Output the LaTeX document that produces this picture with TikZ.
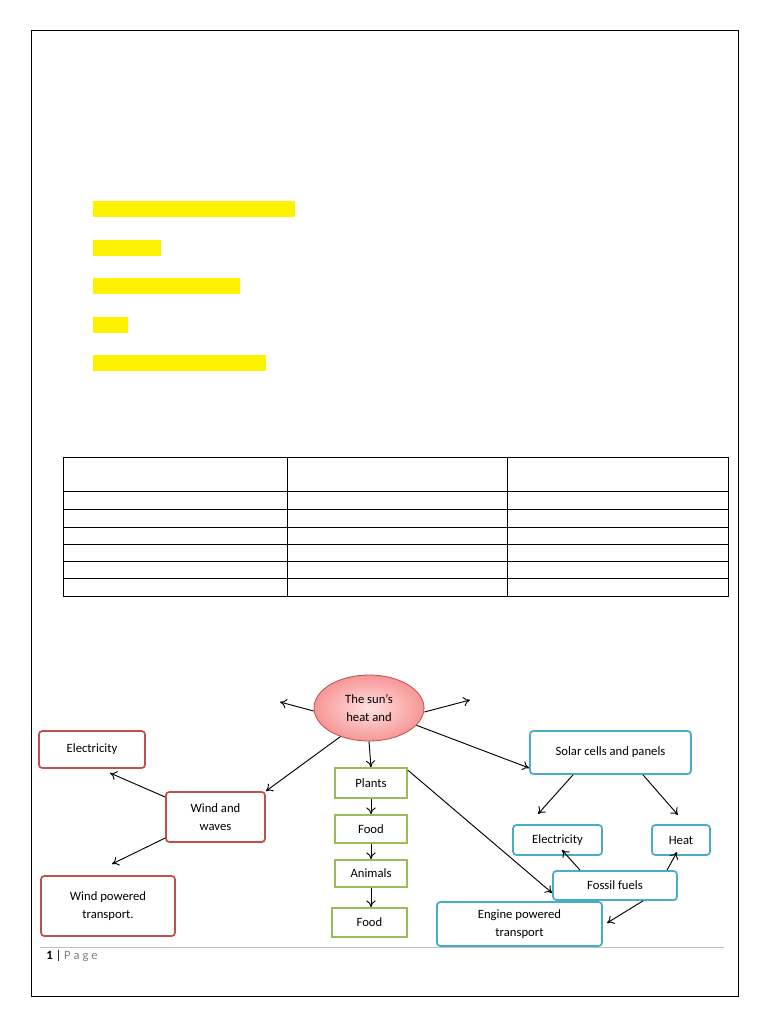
\documentclass[tikz,border=0pt]{standalone}
\usepackage{fontspec}
\setmainfont{Carlito}
\usetikzlibrary{shapes.geometric,shadings,arrows.meta}
\definecolor{cred}{RGB}{192,80,77}
\definecolor{cgrn}{RGB}{155,187,89}
\definecolor{cblu}{RGB}{75,172,198}
\definecolor{pin}{RGB}{255,225,225}
\definecolor{pout}{RGB}{247,150,150}
\begin{document}
\begin{tikzpicture}[x=0.75pt,y=-0.75pt,
 wd/.style={minimum width=#1*0.75pt},
 ht/.style={minimum height=#1*0.75pt},
 box/.style={draw,line width=1.3pt,rounded corners=2.5pt,fill=white,align=center,inner sep=1pt,font=\fontsize{9.5}{14}\selectfont},
 redb/.style={box,draw=cred},
 grnb/.style={box,draw=cgrn,rounded corners=0pt},
 blub/.style={box,draw=cblu},
 arr/.style={-{To[length=5pt,width=7pt]},line width=0.7pt}]
\useasboundingbox (0,0) rectangle (768,1024);
\fill[white] (0,0) rectangle (768,1024);
\draw[line width=0.6pt] (31,30) rectangle (738,996);
\foreach \a/\b/\c in {201/217/295,240/256/161,278/294/240,317/333/128,355/371/266}
  \fill[yellow] (93,\a) rectangle (\c,\b);
\draw[line width=0.6pt] (63,457) rectangle (728,596);
\foreach \y in {491,509,527,544,561,578} \draw[line width=0.6pt] (63,\y) -- (728,\y);
\foreach \x in {287,507} \draw[line width=0.6pt] (\x,457) -- (\x,596);
% nodes
\node[ellipse,draw=cred,line width=0.6pt,inner color=pin,outer color=pout,wd=110,ht=66,inner sep=0pt,align=center,font=\fontsize{9.5}{14}\selectfont] (sun) at (369,708) {The sun’s\\heat and};
\node[redb,wd=106,ht=37] (e1) at (92,749.5) {Electricity};
\node[redb,wd=99,ht=50] (ww) at (215.5,817) {Wind and\\waves};
\node[redb,wd=134,ht=60] (wp) at (108,906) {Wind powered\\transport.};
\node[grnb,wd=72,ht=30] (pl) at (371,783) {Plants};
\node[grnb,wd=72,ht=28] (f1) at (371,829) {Food};
\node[grnb,wd=72,ht=27] (an) at (371,873.5) {Animals};
\node[grnb,wd=75,ht=29] (f2) at (369.5,922.5) {Food};
\node[blub,wd=161,ht=43] (sc) at (610.5,752.5) {Solar cells and panels};
\node[blub,wd=89,ht=30] (e2) at (557.5,840) {Electricity};
\node[blub,wd=58,ht=30] (hh) at (681,840) {Heat};
\node[blub,wd=165,ht=44] (en) at (519.5,924) {Engine powered\\transport};
\node[blub,wd=124,ht=29] (ff) at (615,885.5) {Fossil fuels};
% free ends
\coordinate (c1) at (280,702); \coordinate (c2) at (470,700);
\coordinate (c3) at (110,773); \coordinate (c4) at (112,864);
\coordinate (c5) at (538,814); \coordinate (c6) at (678,815);
\coordinate (c7) at (562,850); \coordinate (c8) at (677,852); \coordinate (c9) at (607,923);
\draw[arr] (sun.west) ++(0,3) -- (c1);
\draw[arr] (sun.east) ++(0,4) -- (c2);
\draw[arr] (sun.225) -- (ww.north east);
\draw[arr] (sun.-20) -- (sc.west |- 0,768);
\draw[arr] (sun.south) -- (pl.north);
\draw[arr] (pl) -- (f1);
\draw[arr] (f1) -- (an);
\draw[arr] (an.south) -- (f2.north -| an.south);
\draw[arr] (pl.north east) ++(0,3) -- (ff.west |- 0,893);
\draw[arr] (ww.west |- 0,797) -- (c3);
\draw[arr] (ww.west |- 0,838) -- (c4);
\draw[arr] (sc.south -| 573,0) -- (c5);
\draw[arr] (sc.south -| 643,0) -- (c6);
\draw[arr] (ff.north -| 580,0) -- (c7);
\draw[arr] (ff.north -| 667,0) -- (c8);
\draw[arr] (ff.south -| 643,0) -- (c9);
\draw[gray!50,line width=0.6pt] (40,947) -- (724,947);
\node[anchor=west,inner sep=0,font=\fontsize{9.5}{12}\selectfont] (pg) at (46,956) {\textbf{1} | \textcolor{gray}{P a g e}};
\end{tikzpicture}
\end{document}
